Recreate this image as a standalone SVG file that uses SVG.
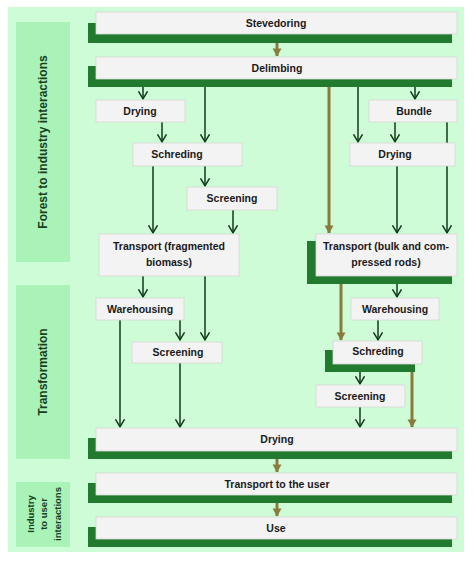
<svg xmlns="http://www.w3.org/2000/svg" width="474" height="561" viewBox="0 0 474 561">
<defs>
<style>
.box{fill:#f3f3f3;stroke:#d6d6d6;stroke-width:0.8}
.sh{fill:#217a2e}
.t{font-family:"Liberation Sans",Arial,sans-serif;font-weight:bold;font-size:10.5px;fill:#1a1a1a;text-anchor:middle}
.lab{font-family:"Liberation Sans",Arial,sans-serif;font-weight:bold;fill:#17401f;text-anchor:middle}
.d{stroke:#113a1c;stroke-width:1.5;fill:none}
.o{stroke:#8a7b3c;stroke-width:3;fill:none}
.band{fill:#a9f3b8}
</style>
<marker id="ad" viewBox="0 0 10 10" refX="9.2" refY="5" markerWidth="10" markerHeight="10" markerUnits="userSpaceOnUse" orient="auto">
<path d="M1.5,0.5 L9,5 L1.5,9.5" fill="none" stroke="#113a1c" stroke-width="1.5"/>
</marker>
<marker id="ao" viewBox="0 0 10 10" refX="9" refY="5" markerWidth="10" markerHeight="10" markerUnits="userSpaceOnUse" orient="auto">
<path d="M1.5,0.5 L9.5,5 L1.5,9.5 Z" fill="#8a7b3c"/>
</marker>
</defs>
<rect x="0" y="0" width="474" height="561" fill="#ffffff"/>
<rect x="8" y="7" width="456" height="545" fill="#cdfcd6"/>

<g id="bands">
<rect class="band" x="16" y="22" width="54" height="240"/>
<text class="lab" font-size="12" transform="translate(47,142) rotate(-90)">Forest to industry interactions</text>
<rect class="band" x="16" y="285" width="54" height="174"/>
<text class="lab" font-size="12" transform="translate(47,372) rotate(-90)">Transformation</text>
<rect class="band" x="16" y="482" width="54" height="65"/>
<text class="lab" font-size="9.5" transform="translate(34,514) rotate(-90)">Industry</text>
<text class="lab" font-size="9.5" transform="translate(47,514) rotate(-90)">to user</text>
<text class="lab" font-size="9.5" transform="translate(61,514) rotate(-90)">interactions</text>
</g>

<g id="connectors">
<line class="o" x1="277" y1="43" x2="277" y2="56" marker-end="url(#ao)"/>
<line class="d" x1="143" y1="80" x2="143" y2="99" marker-end="url(#ad)"/>
<line class="d" x1="205" y1="80" x2="205" y2="142" marker-end="url(#ad)"/>
<line class="o" x1="329" y1="87" x2="329" y2="233" marker-end="url(#ao)"/>
<line class="d" x1="358" y1="80" x2="358" y2="142" marker-end="url(#ad)"/>
<line class="d" x1="415" y1="80" x2="415" y2="99" marker-end="url(#ad)"/>
<line class="d" x1="162" y1="122" x2="162" y2="142" marker-end="url(#ad)"/>
<line class="d" x1="395" y1="122" x2="395" y2="142" marker-end="url(#ad)"/>
<line class="d" x1="447" y1="122" x2="447" y2="233" marker-end="url(#ad)"/>
<line class="d" x1="205" y1="166" x2="205" y2="186" marker-end="url(#ad)"/>
<line class="d" x1="153" y1="166" x2="153" y2="233" marker-end="url(#ad)"/>
<line class="d" x1="233" y1="210" x2="233" y2="233" marker-end="url(#ad)"/>
<line class="d" x1="397" y1="166" x2="397" y2="233" marker-end="url(#ad)"/>
<line class="d" x1="143" y1="276" x2="143" y2="297" marker-end="url(#ad)"/>
<line class="d" x1="205" y1="276" x2="205" y2="340" marker-end="url(#ad)"/>
<line class="d" x1="180" y1="320" x2="180" y2="340" marker-end="url(#ad)"/>
<line class="d" x1="120" y1="320" x2="120" y2="427" marker-end="url(#ad)"/>
<line class="d" x1="180" y1="363" x2="180" y2="427" marker-end="url(#ad)"/>
<line class="d" x1="397" y1="276" x2="397" y2="297" marker-end="url(#ad)"/>
<line class="o" x1="341" y1="284" x2="341" y2="340" marker-end="url(#ao)"/>
<line class="d" x1="378" y1="320" x2="378" y2="340" marker-end="url(#ad)"/>
<line class="o" x1="412" y1="372" x2="412" y2="427" marker-end="url(#ao)"/>
<line class="d" x1="360" y1="372" x2="360" y2="384" marker-end="url(#ad)"/>
<line class="d" x1="360" y1="407" x2="360" y2="427" marker-end="url(#ad)"/>
<line class="o" x1="277" y1="459" x2="277" y2="472" marker-end="url(#ao)"/>
<line class="o" x1="277" y1="503" x2="277" y2="516" marker-end="url(#ao)"/>
</g>

<g id="stevedoring">
<rect class="sh" x="88" y="23" width="364" height="20"/>
<rect class="box" x="96" y="12" width="361" height="22"/>
<text class="t" x="276" y="27">Stevedoring</text>
</g>
<g id="delimbing">
<rect class="sh" x="88" y="66" width="364" height="21"/>
<rect class="box" x="96" y="57" width="361" height="22"/>
<text class="t" x="277" y="72">Delimbing</text>
</g>
<g id="drying1">
<rect class="box" x="96" y="100" width="89" height="22"/>
<text class="t" x="140" y="115">Drying</text>
</g>
<g id="bundle">
<rect class="box" x="369" y="100" width="88" height="22"/>
<text class="t" x="414" y="115">Bundle</text>
</g>
<g id="schreding1">
<rect class="box" x="133" y="143" width="109" height="23"/>
<text class="t" x="177" y="158">Schreding</text>
</g>
<g id="drying2">
<rect class="box" x="350" y="143" width="105" height="23"/>
<text class="t" x="395" y="158">Drying</text>
</g>
<g id="screening1">
<rect class="box" x="187" y="187" width="90" height="23"/>
<text class="t" x="232" y="202">Screening</text>
</g>
<g id="transport1">
<rect class="box" x="99" y="234" width="140" height="42"/>
<text class="t" x="169" y="250">Transport (fragmented</text>
<text class="t" x="169" y="266">biomass)</text>
</g>
<g id="transport2">
<rect class="sh" x="307" y="241" width="145" height="43"/>
<rect class="box" x="316" y="234" width="141" height="42"/>
<text class="t" x="386" y="250">Transport (bulk and com-</text>
<text class="t" x="386" y="266">pressed rods)</text>
</g>
<g id="warehousing1">
<rect class="box" x="96" y="298" width="88" height="22"/>
<text class="t" x="140" y="313">Warehousing</text>
</g>
<g id="screening2">
<rect class="box" x="132" y="342" width="90" height="21"/>
<text class="t" x="178" y="356">Screening</text>
</g>
<g id="warehousing2">
<rect class="box" x="351" y="298" width="88" height="22"/>
<text class="t" x="395" y="313">Warehousing</text>
</g>
<g id="schreding2">
<rect class="sh" x="325" y="350" width="90" height="22"/>
<rect class="box" x="333" y="341" width="89" height="23"/>
<text class="t" x="378" y="355">Schreding</text>
</g>
<g id="screening3">
<rect class="box" x="316" y="385" width="89" height="22"/>
<text class="t" x="360" y="400">Screening</text>
</g>
<g id="drying3">
<rect class="sh" x="88" y="438" width="364" height="21"/>
<rect class="box" x="96" y="428" width="361" height="23"/>
<text class="t" x="277" y="443">Drying</text>
</g>
<g id="transport-user">
<rect class="sh" x="88" y="483" width="364" height="20"/>
<rect class="box" x="96" y="473" width="361" height="22"/>
<text class="t" x="277" y="488">Transport to the user</text>
</g>
<g id="use">
<rect class="sh" x="88" y="527" width="364" height="20"/>
<rect class="box" x="96" y="517" width="361" height="22"/>
<text class="t" x="276" y="532">Use</text>
</g>
</svg>
